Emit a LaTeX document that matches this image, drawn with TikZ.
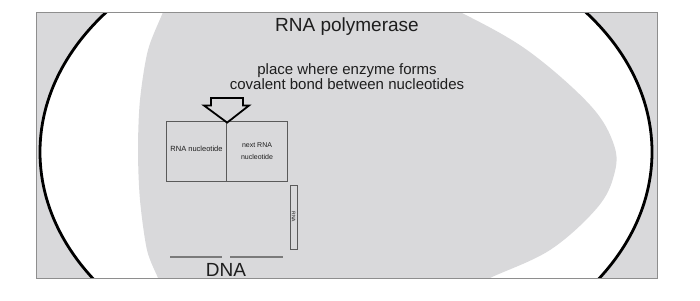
\documentclass[tikz,border=0pt]{standalone}
\usepackage{fontspec}
\setmainfont{Liberation Sans}
\definecolor{bggray}{HTML}{D9D9DB}
\definecolor{framegray}{HTML}{8E8E8E}
\definecolor{boxgray}{HTML}{5A5A5A}
\definecolor{dnagray}{HTML}{7A7A7A}
\definecolor{txt}{HTML}{1E1E1E}
\begin{document}
\begin{tikzpicture}[x=1pt,y=-1pt,
  cell/.style={draw=boxgray,line width=0.8pt,minimum width=60.5pt,minimum height=60pt,inner sep=0pt,align=center,font=\fontsize{7}{9}\selectfont,text=txt},
  label/.style={text=txt,inner sep=0pt,anchor=base},
  dnaline/.style={draw=dnagray,line width=1.2pt}]
\useasboundingbox (0,0) rectangle (700,300);
% frame background
\fill[bggray] (36,12) rectangle (657,278);
\begin{scope}
  \clip (36,12) rectangle (657,278);
  \fill[white] (346,152) ellipse [x radius=306, y radius=225];
  % enzyme blob
  \fill[bggray] plot[smooth] coordinates {(166,0) (163,12) (148,50) (140,100) (138,150) (140,200) (147,250) (158,278) (162,290)}
     -- plot[smooth,tension=0.6] coordinates {(470,290) (490,278) (550,250) (597,208) (614,175) (614,145) (590,105) (527,50) (460,12) (430,0)} -- cycle;
  \draw[black,line width=2.8pt] (346,152) ellipse [x radius=306, y radius=225];
\end{scope}
\draw[framegray,line width=0.8pt] (36,12) rectangle (657,278);
% texts
\node[label,font=\fontsize{19}{22}\selectfont] (title) at (347,31) {RNA polymerase};
\node[label,font=\fontsize{15}{18}\selectfont] (line1) at (347,74) {place where enzyme forms};
\node[label,font=\fontsize{15}{18}\selectfont] (line2) at (347,89) {covalent bond between nucleotides};
% boxes
\node[cell] (lbox) at (196.5,151) {};
\node[cell] (rbox) at (257,151) {};
\node[text=txt,inner sep=0pt,font=\fontsize{7.5}{9}\selectfont] (ltext) at (196.5,149) {RNA nucleotide};
\node[text=txt,inner sep=0pt,align=center,font=\fontsize{7}{12}\selectfont] (rtext) at (257,151) {next RNA\\nucleotide};
% open block arrow
\coordinate (tip) at (lbox.north east);
\draw[black,line width=1.8pt,line join=miter,fill=bggray]
  (211,98) -- (243,98) -- (243,105.5) -- (249,105.5) -- ([yshift=-2pt]tip) -- (204,105.5) -- (211,105.5) -- cycle;
% small bar
\node[draw=boxgray,line width=0.6pt,minimum width=7pt,minimum height=64pt,inner sep=0pt] (bar) at (293.5,217) {};
\node[rotate=-90,inner sep=0pt,font=\fontsize{5}{6}\selectfont,text=txt] (bartext) at (bar.center) {RNA};
% DNA
\coordinate (d1a) at (170,257); \coordinate (d1b) at (222,257);
\coordinate (d2a) at (230,257); \coordinate (d2b) at (283,257);
\draw[dnaline] (d1a) -- (d1b);
\draw[dnaline] (d2a) -- (d2b);
\node[label,font=\fontsize{19}{22}\selectfont] (dna) at (226,276.5) {DNA};
\end{tikzpicture}
\end{document}
